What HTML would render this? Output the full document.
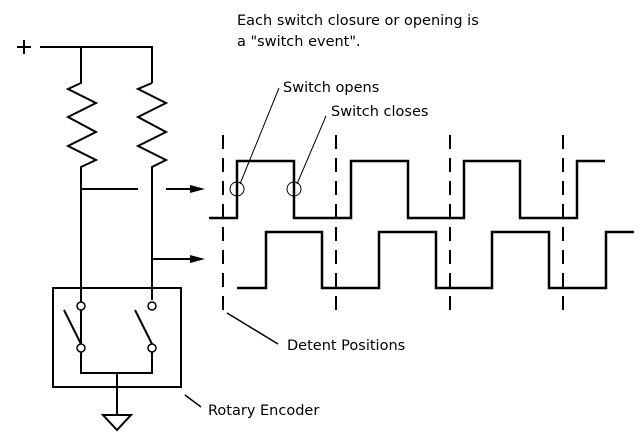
<!DOCTYPE html>
<html><head><style>body{margin:0;background:#fff}svg{display:block}text{font-family:"DejaVu Sans","Liberation Sans",sans-serif;font-size:14.5px;fill:#000}</style></head><body>
<svg width="640" height="439" viewBox="0 0 640 439">
<g fill="none" stroke="#000" stroke-width="2">
<path d="M17 47H31M24 40V54"/>
<path d="M40 47H152V83"/>
<path d="M81 47V83L68 89L96 103L68 117L96 132L68 146L96 160L81 167V373H152V344"/>
<path d="M152 83L138 89L166 103L138 117L166 132L138 146L166 160L152 167V300"/>
<path d="M81 189H138M166 189H195M152 259H195"/>
<path d="M81 300V312"/>
<rect x="53" y="288" width="128" height="99"/>
<path d="M64 310L81 344M135 310L152 344"/>
<path d="M117 373V415M103 415H131L117 430Z"/>
<path d="M209 218H237V161H294V218H351V161H408V218H464V161H520V218H577V161H605" stroke-width="2.5"/>
<path d="M237 288H266V232H322V288H379V232H436V288H492V232H549V288H606V232H634" stroke-width="2.5"/>
<path d="M223 135V312M336 135V312M450 135V312M563 135V312" stroke-dasharray="14,9"/>
<path d="M227 313L278 344M185 395L201 407" stroke-width="1.5"/>
<path d="M240 184L279 88M297 184L326 116" stroke-width="1"/>
</g>
<g fill="#fff" stroke="#000" stroke-width="1.5">
<circle cx="81" cy="306" r="4"/><circle cx="152" cy="306" r="4"/><circle cx="81" cy="348" r="4"/><circle cx="152" cy="348" r="4"/>
</g>
<g fill="none" stroke="#000" stroke-width="1"><circle cx="237" cy="189" r="7"/><circle cx="294" cy="189" r="7"/></g>
<path d="M205 189L190 185V193ZM205 259L190 255V263Z" fill="#000"/>
<text x="237" y="25">Each switch closure or opening is</text>
<text x="237" y="46">a "switch event".</text>
<text x="283" y="92">Switch opens</text>
<text x="331" y="116">Switch closes</text>
<text x="287" y="350">Detent Positions</text>
<text x="208" y="415">Rotary Encoder</text>
</svg>
</body></html>
